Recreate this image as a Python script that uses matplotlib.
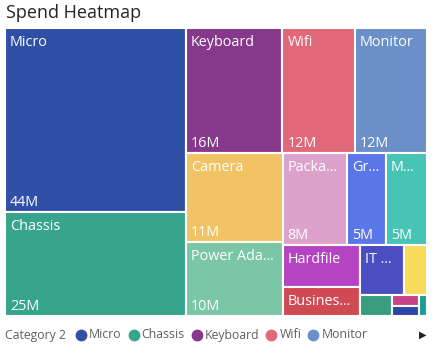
import matplotlib
matplotlib.use('Agg')
import matplotlib.pyplot as plt
from matplotlib.patches import Rectangle
from matplotlib.lines import Line2D

plt.rcParams['font.family'] = ['Open Sans', 'DejaVu Sans']

# spend per category (millions), in the order the treemap lays them out
categories = ['Micro', 'Chassis', 'Keyboard', 'Wifi', 'Monitor', 'Camera',
              'Power Adapter', 'Packaging', 'Graphics Card', 'Memory',
              'Hardfile', 'Business Software', 'IT Services', 'Speakers',
              'Cables', 'Headset', 'Mouse', 'Webcam']
spend = [44, 25, 16, 12, 12, 11.4, 9.5, 7.8, 4.8, 5.0,
         4.2, 3.0, 2.95, 1.5, 0.9, 0.4, 0.35, 0.22]
colors = ['#3050A8', '#37A58C', '#86388A', '#E06878', '#6A8FC9', '#F2C365',
          '#7BC6A6', '#DDA2CC', '#5B76E8', '#46C4B5', '#B544C2', '#CF4A53',
          '#4A4EC0', '#F9DB5C', '#3A9D80', '#C8438A', '#2D45A8', '#1C9E95']
legend_items = categories[:5]

W, H = 433, 356          # figure size in px
PLOT_W, PLOT_H = 422, 288
PHI = (1 + 5 ** 0.5) / 2


def squarify(values, x0, y0, x1, y1, ratio=PHI):
    # same idea as d3.treemapSquarify
    rects = []
    total = sum(values)
    n = len(values)
    i0 = 0
    while i0 < n:
        dx, dy = x1 - x0, y1 - y0
        i1 = i0 + 1
        row_sum = values[i0]
        vmin = vmax = row_sum
        alpha = max(dy / dx, dx / dy) / (total * ratio)
        beta = row_sum * row_sum * alpha
        best = max(vmax / beta, beta / vmin)
        while i1 < n:
            v = values[i1]
            s = row_sum + v
            lo, hi = min(vmin, v), max(vmax, v)
            beta = s * s * alpha
            r = max(hi / beta, beta / lo)
            if r > best:
                break
            row_sum, vmin, vmax, best = s, lo, hi, r
            i1 += 1
        row = values[i0:i1]
        if dx < dy:
            h = dy * row_sum / total if i1 < n else dy
            cx = x0
            for v in row:
                w = dx * v / row_sum
                rects.append((cx, y0, w, h))
                cx += w
            y0 += h
        else:
            w = dx * row_sum / total if i1 < n else dx
            cy = y0
            for v in row:
                h = dy * v / row_sum
                rects.append((x0, cy, w, h))
                cy += h
            x0 += w
        total -= row_sum
        i0 = i1
    return rects


fig = plt.figure(figsize=(W / 100, H / 100), dpi=100)
fig.patch.set_facecolor('white')
ax = fig.add_axes([5 / W, 1 - 316 / H, PLOT_W / W, PLOT_H / H])
ax.set_xlim(0, PLOT_W)
ax.set_ylim(PLOT_H, 0)
ax.axis('off')

renderer = fig.canvas.get_renderer()


def text_w(t):
    return t.get_window_extent(renderer=renderer).width


def fit_label(t, label, room):
    t.set_text(label)
    if text_w(t) <= room:
        return True
    for k in range(len(label) - 1, 0, -1):
        t.set_text(label[:k] + '...')
        if text_w(t) <= room:
            return True
    t.remove()
    return False


rects = squarify(spend, 0, 0, PLOT_W, PLOT_H)
for (x, y, w, h), name, val, col in zip(rects, categories, spend, colors):
    ax.add_patch(Rectangle((x, y), w, h, facecolor=col, edgecolor='white', linewidth=1.5))
    if h >= 24 and w >= 28:
        t = ax.text(x + 5, y + 7, name, color='white', fontsize=10.4, va='top', ha='left')
        fit_label(t, name, w - 12)
    if h >= 60:
        ax.text(x + 5, y + h - 6, '%dM' % int(val + 0.5), color='white',
                fontsize=10.4, va='baseline', ha='left')

fig.text(6 / W, 1 - 13 / H, 'Spend Heatmap', fontsize=13, color='#252423', va='center', ha='left')

# legend row
ly = 1 - 335 / H
cat = fig.text(5 / W, ly, 'Category 2', fontsize=8.8, color='#605E5C', va='center', ha='left')
px = 5 + text_w(cat) + 10
for name in legend_items:
    col = colors[categories.index(name)]
    fig.add_artist(Line2D([(px + 5) / W], [ly], marker='o', markersize=7.5, color=col,
                          linestyle='none', transform=fig.transFigure))
    lt = fig.text((px + 13) / W, ly, name, fontsize=8.8, color='#605E5C', va='center', ha='left')
    px = px + 13 + text_w(lt) + 7
fig.text(423 / W, ly, '\u25B6', fontsize=7, color='#252423', va='center', ha='center',
         family=['DejaVu Sans'])

fig.savefig('out.png', dpi=100, facecolor='white')
